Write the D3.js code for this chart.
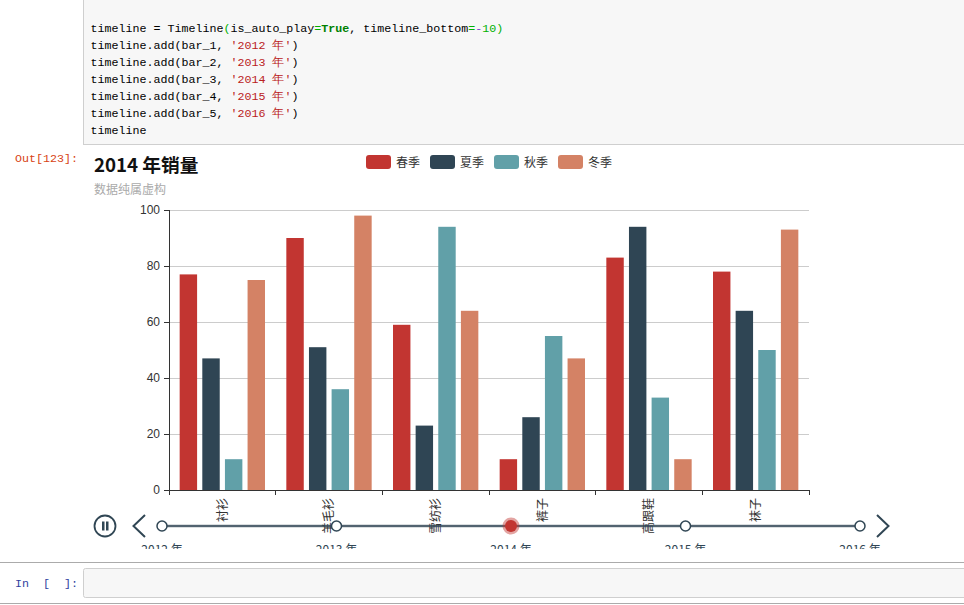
<!DOCTYPE html>
<html>
<head>
<meta charset="utf-8">
<script src="https://cdn.jsdelivr.net/npm/d3@7"></script>
<style>
  html, body { margin: 0; padding: 0; background: #fff; overflow: hidden; }
  svg { display: block; font-family: "Noto Sans CJK SC", "Noto Sans", sans-serif; }
  .code { font-family: "Liberation Mono", monospace; font-size: 11.67px; white-space: pre; }
  .axis text { font-size: 12px; fill: #333; }
  .axis path, .axis line { stroke: #333; shape-rendering: crispEdges; }
  .grid line { shape-rendering: crispEdges; }
</style>
</head>
<body>
<div id="chart"></div>
<script>
var svgWidth = 964;
var svgHeight = 605;

var categories = ["衬衫", "羊毛衫", "雪纺衫", "裤子", "高跟鞋", "袜子"];
var seasons = ["春季", "夏季", "秋季", "冬季"];
var colors = ["#c23531", "#2f4554", "#61a0a8", "#d48265"];
var spring = [77, 90, 59, 11, 83, 78];
var summer = [47, 51, 23, 26, 94, 64];
var autumn = [11, 36, 94, 55, 33, 50];
var winter = [75, 98, 64, 47, 11, 93];
var yTicks = [0, 20, 40, 60, 80, 100];
var years = ["2012 年", "2013 年", "2014 年", "2015 年", "2016 年"];
var currentYear = "2014 年";

var seriesValues = [spring, summer, autumn, winter];

// code cell text, pieces are [text, color, bold]
var black = "#000", green = "#00b000", red = "#ba2121", purple = "#7c3fd0";
var codeLines = [
  [["timeline = Timeline", black], ["(", green], ["is_auto_play", black], ["=", green], ["True", "#008000", true],
   [", timeline_bottom", black], ["=", green], ["-", purple], ["10", green], [")", green]],
  [["timeline.add(bar_1, ", black], ["'2012 年'", red], [")", black]],
  [["timeline.add(bar_2, ", black], ["'2013 年'", red], [")", black]],
  [["timeline.add(bar_3, ", black], ["'2014 年'", red], [")", black]],
  [["timeline.add(bar_4, ", black], ["'2015 年'", red], [")", black]],
  [["timeline.add(bar_5, ", black], ["'2016 年'", red], [")", black]],
  [["timeline", black]]
];

var margin = { top: 210, right: 155, bottom: 115, left: 169 };
var width = svgWidth - margin.left - margin.right;
var height = svgHeight - margin.top - margin.bottom;

var svg = d3.select("#chart")
  .append("svg")
  .attr("width", svgWidth)
  .attr("height", svgHeight);

// notebook chrome
svg.append("rect")
  .attr("x", 83.5).attr("y", -2)
  .attr("width", 890).attr("height", 146.5)
  .attr("fill", "#f7f7f7").attr("stroke", "#cfcfcf");

var codeGroup = svg.append("g").attr("class", "code");
codeLines.forEach(function(line, i) {
  var t = codeGroup.append("text")
    .attr("x", 90.5)
    .attr("y", 31.5 + i * 17);
  line.forEach(function(p) {
    t.append("tspan")
      .attr("fill", p[1])
      .attr("font-weight", p[2] ? "bold" : "normal")
      .text(p[0]);
  });
});

svg.append("text")
  .attr("class", "code")
  .attr("x", 15).attr("y", 162)
  .attr("fill", "#d84315")
  .text("Out[123]:");

svg.append("line")
  .attr("x1", 0).attr("x2", svgWidth)
  .attr("y1", 562.5).attr("y2", 562.5)
  .attr("stroke", "#ababab");
svg.append("rect")
  .attr("x", 83.5).attr("y", 568.5)
  .attr("width", 890).attr("height", 29)
  .attr("rx", 2)
  .attr("fill", "#f7f7f7").attr("stroke", "#cfcfcf");
svg.append("line")
  .attr("x1", 0).attr("x2", svgWidth)
  .attr("y1", 603.5).attr("y2", 603.5)
  .attr("stroke", "#ababab");
svg.append("text")
  .attr("class", "code")
  .attr("x", 15).attr("y", 586.5)
  .attr("fill", "#303f9f")
  .text("In  [  ]:");

// title and legend
svg.append("text")
  .attr("x", 94).attr("y", 172)
  .attr("font-size", 18.7).attr("font-weight", "bold")
  .attr("fill", "#111")
  .text(currentYear.replace(" 年", " 年销量"));
svg.append("text")
  .attr("x", 94).attr("y", 193.5)
  .attr("font-size", 12)
  .attr("fill", "#aaa")
  .text("数据纯属虚构");

var legendX = d3.scalePoint().domain(seasons).range([366, 558]);
var legend = svg.append("g").selectAll("g")
  .data(seasons)
  .enter()
  .append("g")
  .attr("transform", d => `translate(${legendX(d)}, 155)`);
legend.append("rect")
  .attr("width", 25).attr("height", 14).attr("rx", 3)
  .attr("fill", (d, i) => colors[i]);
legend.append("text")
  .attr("x", 30).attr("y", 12)
  .attr("font-size", 12)
  .attr("fill", "#333")
  .text(d => d);

// chart
var chartGroup = svg.append("g")
  .attr("transform", `translate(${margin.left}, ${margin.top})`);

var x0 = d3.scaleBand()
  .domain(categories)
  .range([0, width])
  .paddingInner(0.2)
  .paddingOuter(0.1);
var x1 = d3.scaleBand()
  .domain(seasons)
  .range([0, x0.bandwidth()])
  .paddingInner(0.23);
var y = d3.scaleLinear()
  .domain([0, 100])
  .range([height, 0]);

chartGroup.append("g")
  .attr("class", "grid")
  .selectAll("line")
  .data(yTicks.slice(1))
  .enter()
  .append("line")
  .attr("x1", 0).attr("x2", width)
  .attr("y1", d => y(d) + 0.5).attr("y2", d => y(d) + 0.5)
  .attr("stroke", "#ccc");

seasons.forEach(function(season, s) {
  chartGroup.append("g")
    .selectAll("rect")
    .data(seriesValues[s])
    .enter()
    .append("rect")
    .attr("x", (d, i) => x0(categories[i]) + x1(season))
    .attr("y", d => y(d))
    .attr("width", x1.bandwidth())
    .attr("height", d => height - y(d))
    .attr("fill", colors[s]);
});

chartGroup.append("g")
  .attr("class", "axis")
  .call(d3.axisLeft(y).tickValues(yTicks).tickSize(5).tickPadding(4));

// category ticks sit on the band edges, as in echarts
var xAxis = chartGroup.append("g")
  .attr("class", "axis")
  .attr("transform", `translate(0, ${height})`);
xAxis.append("line").attr("x1", 0).attr("x2", width);
xAxis.selectAll(".edge")
  .data(categories.concat(["end"]))
  .enter()
  .append("line")
  .attr("class", "edge")
  .attr("x1", (d, i) => i < categories.length ? x0(d) - x0.step() * 0.1 : width)
  .attr("x2", (d, i) => i < categories.length ? x0(d) - x0.step() * 0.1 : width)
  .attr("y2", 5);
xAxis.selectAll("text")
  .data(categories)
  .enter()
  .append("text")
  .attr("transform", d => `translate(${x0(d) + x0.bandwidth() / 2}, 8) rotate(-90)`)
  .attr("text-anchor", "end")
  .attr("dy", "0.35em")
  .text(d => d);

// timeline
var timeX = d3.scalePoint().domain(years).range([162, 860]);
var lineY = 526;
var themeDark = "#304654";

svg.append("clipPath").attr("id", "tl-clip")
  .append("rect").attr("x", 0).attr("y", 0).attr("width", svgWidth).attr("height", 549);

var timeline = svg.append("g").attr("clip-path", "url(#tl-clip)");
timeline.append("line")
  .attr("x1", timeX(years[0])).attr("x2", timeX(years[4]))
  .attr("y1", lineY).attr("y2", lineY)
  .attr("stroke", themeDark).attr("stroke-width", 3).attr("opacity", 0.35);
timeline.append("line")
  .attr("x1", timeX(years[0])).attr("x2", timeX(years[4]))
  .attr("y1", lineY).attr("y2", lineY)
  .attr("stroke", themeDark).attr("stroke-width", 1.6);

timeline.selectAll(".node")
  .data(years.filter(d => d !== currentYear))
  .enter()
  .append("circle")
  .attr("class", "node")
  .attr("cx", d => timeX(d)).attr("cy", lineY).attr("r", 5)
  .attr("fill", "#fff")
  .attr("stroke", themeDark).attr("stroke-width", 1.5);

timeline.append("circle")
  .attr("cx", timeX(currentYear)).attr("cy", lineY).attr("r", 8.5)
  .attr("fill", colors[0]).attr("opacity", 0.45);
timeline.append("circle")
  .attr("cx", timeX(currentYear)).attr("cy", lineY).attr("r", 6)
  .attr("fill", colors[0]);

timeline.selectAll(".year")
  .data(years)
  .enter()
  .append("text")
  .attr("class", "year")
  .attr("x", d => timeX(d)).attr("y", 554)
  .attr("text-anchor", "middle")
  .attr("font-size", 12)
  .attr("fill", themeDark)
  .text(d => d);

// play button and arrows
timeline.append("circle")
  .attr("cx", 105).attr("cy", lineY).attr("r", 10.5)
  .attr("fill", "none").attr("stroke", themeDark).attr("stroke-width", 1.8);
[102, 106].forEach(function(px) {
  timeline.append("rect")
    .attr("x", px).attr("y", lineY - 4.5)
    .attr("width", 2.5).attr("height", 9)
    .attr("fill", themeDark);
});
var chevron = d3.line();
[[[145, 515], [133.5, 526], [145, 537]], [[877, 515], [888.5, 526], [877, 537]]].forEach(function(pts) {
  timeline.append("path")
    .attr("d", chevron(pts))
    .attr("fill", "none").attr("stroke", themeDark).attr("stroke-width", 2);
});
</script>
</body>
</html>
